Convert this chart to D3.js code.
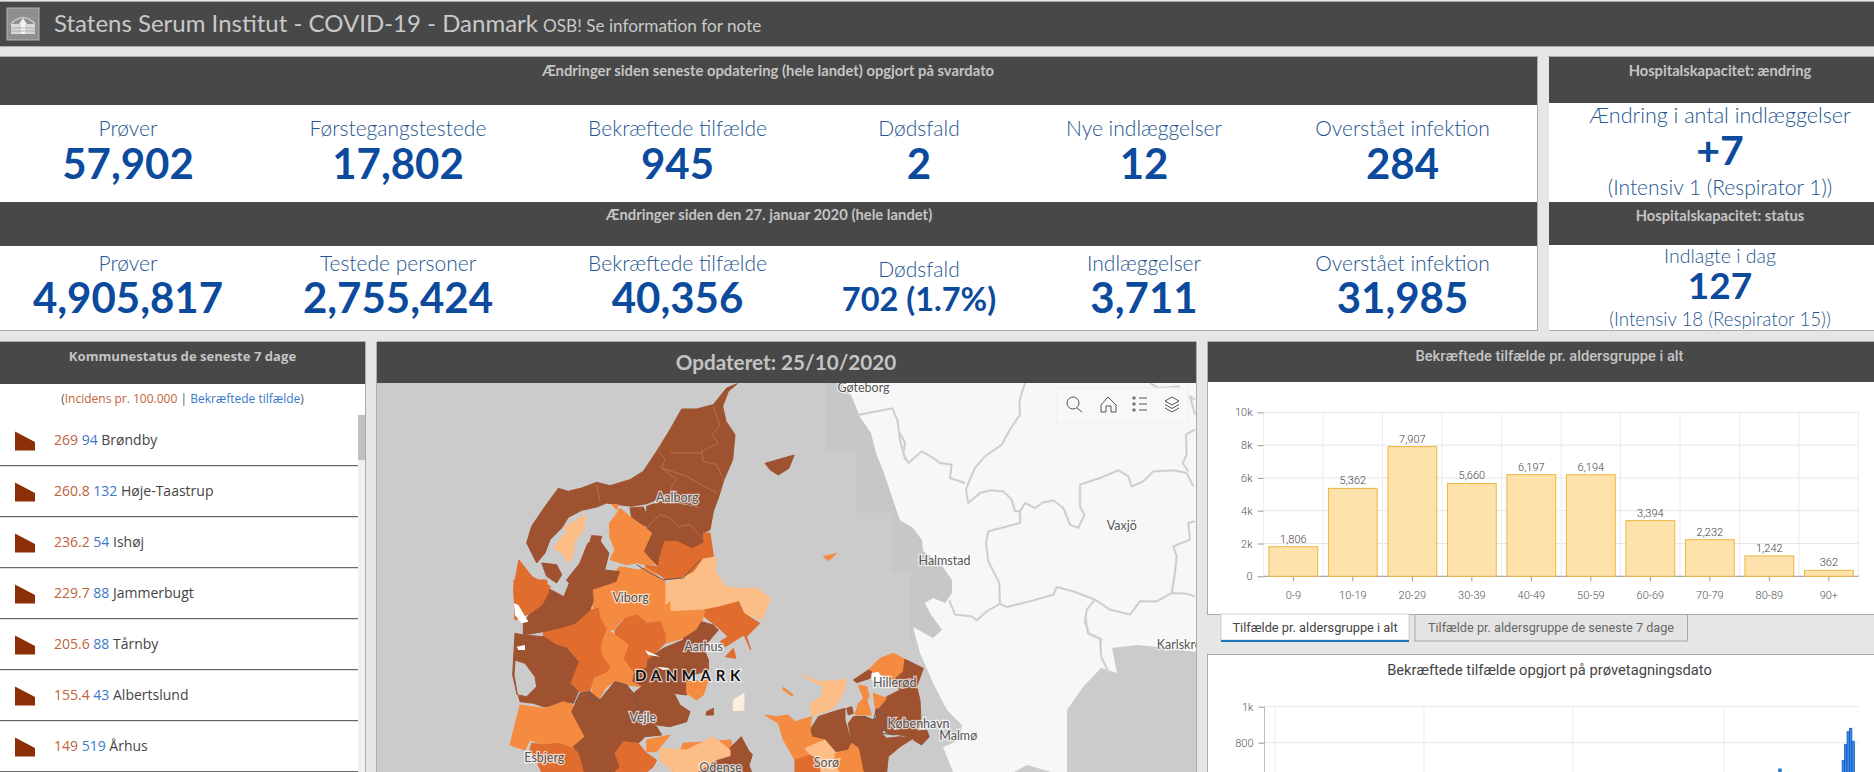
<!DOCTYPE html>
<html lang="da">
<head>
  <meta charset="UTF-8">
  <script src="https://d3js.org/d3.v7.min.js"></script>
  <title>Statens Serum Institut - COVID-19 - Danmark</title>
  <style>
    html, body { margin: 0; padding: 0; background: #e6e6e6; overflow: hidden; }
    svg { display: block; }
    text { font-family: Lato, "Open Sans", sans-serif; }
    .kpi-label { fill: #24558f; font-weight: 300; text-anchor: middle; }
    .kpi-value { fill: #0b4a9c; font-weight: 700; text-anchor: middle; }
    .panel-title { fill: #c4c4c4; font-weight: 700; text-anchor: middle; }
    .row-text { font-family: "Open Sans", sans-serif; font-size: 14px; }
    .axis text { font-family: Roboto, sans-serif; font-weight: 300; font-size: 11px; fill: #555; }
    .axis .domain { display: none; }
    .axis line { stroke: #999; }
    .map-label { font-family: Lato, sans-serif; font-size: 12.5px; fill: #555; text-anchor: middle;
      paint-order: stroke; stroke: rgba(255,255,255,.7); stroke-width: 2.5px; }
  </style>
</head>
<body>
<div id="chart"></div>
<script>
// top KPI rows
const changeLabels = ["Prøver", "Førstegangstestede", "Bekræftede tilfælde", "Dødsfald", "Nye indlæggelser", "Overstået infektion"];
const changeValues = ["57,902", "17,802", "945", "2", "12", "284"];
const totalLabels = ["Prøver", "Testede personer", "Bekræftede tilfælde", "Dødsfald", "Indlæggelser", "Overstået infektion"];
const totalValues = ["4,905,817", "2,755,424", "40,356", "702 (1.7%)", "3,711", "31,985"];

// kommune list
const kommuneNames = ["Brøndby", "Høje-Taastrup", "Ishøj", "Jammerbugt", "Tårnby", "Albertslund", "Århus"];
const kommuneIncidence = ["269", "260.8", "236.2", "229.7", "205.6", "155.4", "149"];
const kommuneCases = [94, 132, 54, 88, 88, 43, 519];

// age chart
const ageGroups = ["0-9", "10-19", "20-29", "30-39", "40-49", "50-59", "60-69", "70-79", "80-89", "90+"];
const ageCases = [1806, 5362, 7907, 5660, 6197, 6194, 3394, 2232, 1242, 362];
const ageTicks = [0, 2000, 4000, 6000, 8000, 10000];

// sampling date chart, only the days that reach into the visible part
const sampleDates = ["2020-09-24", "2020-10-20", "2020-10-21", "2020-10-22", "2020-10-23", "2020-10-24"];
const sampleCases = [654, 702, 791, 861, 880, 808];
const sampleTicks = [800, 1000];

// map geometry. each entry: [incidence class, points]
const northRegions = [
  [0, [[712,2],[685,25],[668,70],[678,115],[705,155],[698,230],[672,290],[655,345],[640,385],[615,378],[590,368],[545,360],[500,345],[470,350],[440,362],[395,370],[355,365],[320,360],[290,372],[245,382],[205,403],[185,435],[150,470],[135,510],[110,540],[90,500],[80,480],[95,430],[125,385],[150,350],[175,316],[205,325],[245,315],[290,298],[330,308],[390,290],[430,265],[470,205],[510,140],[545,78],[590,78],[640,65],[680,15]]],
  [0, [[440,370],[470,360],[500,350],[545,365],[590,372],[640,385],[630,440],[610,450],[612,480],[575,497],[530,475],[495,475],[480,520],[475,550],[430,505],[455,450],[440,435],[430,405],[440,390]]],
  [0, [[390,375],[430,372],[440,395],[435,430],[395,405]]],
  [2, [[360,375],[395,405],[430,430],[455,450],[430,505],[465,545],[435,545],[410,540],[380,545],[330,530],[345,500],[330,465],[328,420],[345,400]]],
  [2, [[335,365],[355,365],[350,380]]],
  [1, [[495,475],[530,475],[575,497],[612,480],[610,450],[630,450],[640,520],[610,525],[605,530],[580,565],[540,585],[500,590],[470,570],[435,548],[475,550],[480,520]]],
  [3, [[160,495],[200,445],[195,430],[240,405],[258,395],[250,440],[225,475],[220,515],[205,540],[185,510]]],
  [0, [[275,458],[305,460],[300,480],[270,475]]],
  [0, [[125,540],[170,545],[185,575],[170,600],[140,580]]]
];

const wideRegions = [
  [3, [[545,735],[545,800],[555,815],[620,810],[660,795],[690,785],[695,820],[730,840],[745,775],[720,745],[690,745],[660,740],[640,690],[645,655],[625,650],[610,670],[570,710]]],
  [1, [[620,810],[650,800],[685,785],[695,820],[725,850],[700,890],[708,930],[695,885],[660,920],[650,905],[665,890],[645,860],[620,830]]],
  [1, [[660,950],[675,925],[680,955]]],
  [2, [[410,770],[430,735],[460,680],[495,690],[515,680],[545,730],[545,790],[555,815],[530,810],[520,850],[470,835],[445,850],[430,870],[410,800]]],
  [0, [[360,720],[385,670],[400,610],[420,595],[440,640],[432,690],[460,695],[450,740],[410,765],[410,790],[385,840],[360,845],[310,860],[300,880],[285,850],[305,800],[325,745],[355,770],[365,730]]],
  [1, [[260,745],[270,660],[285,690],[295,710],[330,740],[310,790],[270,820],[262,790]]],
  [4, [[675,1080],[695,1060],[695,1110],[675,1112]]],
  [0, [[735,370],[790,345],[780,385],[760,405],[745,390]]],
  [2, [[845,650],[870,640],[855,662]]],
  [2, [[580,1210],[670,1200],[680,1260],[640,1296],[560,1296]]],
  [0, [[690,1190],[710,1250],[700,1296],[610,1296],[640,1270]]]
];

const midRegions = [
  [2, [[280,30],[370,0],[495,0],[495,65],[475,95],[480,125],[440,130],[410,105],[370,115],[340,150],[320,150],[300,115],[280,80]]],
  [2, [[510,65],[475,95],[480,125],[495,160],[495,190],[550,175],[590,150],[605,125],[615,90],[510,95]]],
  [0, [[605,125],[640,135],[655,150],[625,185],[610,205],[625,240],[620,270],[560,270],[550,175],[590,150]]],
  [0, [[460,225],[490,205],[550,180],[610,205],[625,240],[625,270],[565,290],[560,345],[520,340],[490,325],[425,320],[395,305],[400,280],[440,260],[440,240]]],
  [1, [[345,150],[375,115],[410,105],[440,130],[480,125],[495,160],[495,190],[460,225],[440,240],[440,260],[400,280],[370,235],[385,195],[345,165]]],
  [2, [[305,180],[325,150],[345,165],[385,195],[370,235],[400,280],[395,305],[425,320],[380,315],[345,305],[320,320],[295,360],[275,350],[280,300],[320,275],[330,260],[310,235],[300,210]]],
  [1, [[130,155],[195,140],[225,130],[270,90],[295,85],[300,115],[320,150],[305,180],[300,210],[310,235],[330,260],[320,275],[280,295],[270,335],[235,335],[210,310],[235,245],[200,205],[170,195],[130,170]]],
  [0, [[70,165],[130,155],[195,140],[225,130],[270,90],[280,60],[275,30],[245,30],[210,40],[200,65],[180,80],[160,35],[130,75],[90,100],[70,130]]],
  [1, [[42,35],[42,0],[140,0],[145,40],[125,75],[90,100],[45,120]]],
  [0, [[45,160],[70,165],[130,170],[170,195],[200,205],[235,245],[210,310],[235,335],[220,370],[190,365],[150,380],[130,380],[100,370],[60,365],[55,345],[80,350],[110,320],[105,290],[75,250],[45,240],[42,285],[52,345],[38,285]]],
  [2, [[60,375],[130,385],[150,380],[190,365],[220,375],[215,395],[255,470],[220,505],[175,490],[130,495],[90,480],[75,510],[30,495]]],
  [0, [[215,395],[240,340],[270,335],[300,360],[295,390],[325,410],[325,470],[290,475],[255,470]]],
  [0, [[300,360],[345,305],[380,315],[400,340],[420,395],[470,440],[485,465],[435,470],[415,490],[370,485],[325,470],[325,410],[295,390]]],
  [0, [[400,340],[425,320],[490,325],[525,345],[540,375],[570,395],[560,425],[510,440],[470,435],[420,395]]],
  [2, [[560,305],[625,300],[610,345],[590,360],[560,340]]],
  [0, [[255,470],[290,475],[325,470],[370,485],[345,520],[360,560],[345,576],[250,576],[235,520],[220,500]]],
  [1, [[370,485],[415,490],[440,520],[470,540],[460,560],[440,576],[345,576],[360,560],[345,520]]],
  [2, [[440,480],[510,465],[470,515],[440,515]]],
  [1, [[95,490],[130,495],[175,490],[220,505],[235,520],[250,576],[125,576],[110,545],[90,510]]],
  [3, [[480,505],[560,510],[640,470],[690,510],[690,540],[640,545],[590,576],[520,576],[480,540]]],
  [0, [[620,576],[640,545],[690,530],[720,525],[720,576]]],
  [0, [[620,395],[640,385],[640,405],[618,405]]]
];

const eastRegions = [
  [2, [[385,210],[420,175],[460,160],[495,178],[490,215],[455,240],[430,225],[395,215]]],
  [0, [[340,240],[385,210],[395,215],[390,235],[350,248]]],
  [0, [[455,245],[490,215],[495,178],[550,205],[530,260],[540,300],[543,370],[520,415],[480,405],[440,400],[420,375],[405,340],[410,320],[440,290],[480,270]]],
  [0, [[520,395],[560,390],[568,410],[545,435],[520,420]]],
  [0, [[325,370],[340,350],[375,350],[400,360],[410,350],[430,345],[445,365],[425,400],[440,415],[480,410],[520,415],[480,440],[445,470],[440,516],[370,516],[355,445],[335,430]]],
  [2, [[355,255],[380,260],[388,290],[380,300],[395,345],[345,345],[355,310],[370,295]]],
  [2, [[400,280],[440,295],[415,325],[405,320]]],
  [3, [[185,225],[240,245],[320,238],[310,280],[280,325],[215,350],[210,310],[245,290],[250,260],[200,235]]],
  [0, [[210,390],[235,350],[280,335],[315,325],[315,360],[325,395],[335,430],[325,450],[285,455],[255,420],[215,410]]],
  [0, [[320,325],[335,320],[340,340],[325,345]]],
  [2, [[75,345],[110,350],[145,345],[165,365],[215,350],[210,390],[215,410],[255,420],[195,445],[210,465],[165,480],[130,420],[115,370]]],
  [3, [[195,445],[255,420],[285,455],[300,475],[285,490],[300,516],[240,516],[230,480],[210,465]]],
  [2, [[285,460],[325,450],[335,430],[355,445],[370,516],[300,516],[285,490]]],
  [1, [[165,480],[210,465],[235,480],[240,516],[165,516]]],
  [2, [[130,262],[160,285],[155,288],[128,268]]],
  [0, [[0,415],[15,440],[38,465],[20,480],[35,516],[0,516]]]
];

// swedish coast and sea, in page pixels
const swedenCoast = [[842,383],[852,397],[860,417],[871,433],[876,453],[884,473],[892,497],[900,520],[913,528],[922,540],[923,551],[940,563],[952,580],[952,593],[945,603],[933,598],[925,603],[930,613],[942,630],[933,638],[913,627],[920,653],[935,687],[947,710],[962,725],[960,740],[943,747],[953,772],[1014,772],[1027,765],[1051,772],[1067,772],[1067,710],[1083,687],[1101,668],[1117,673],[1112,648],[1138,645],[1165,648],[1196,652],[1196,383]];
const shallowSea = [[850,128],[850,340],[908,340],[908,518],[975,518],[975,695],[1010,695],[1010,900],[1200,900],[1200,128]];

const neBorders = [
  [[375,0],[365,30],[358,60],[360,95],[330,140],[305,185],[255,220],[225,255],[205,300],[198,320],[205,360],[240,330],[270,322],[310,325],[335,350],[345,385],[360,385],[375,360],[405,375],[430,358],[460,352],[490,375],[510,425],[535,435],[553,395],[540,370],[540,305],[600,285],[655,262],[685,280],[695,310],[730,295],[760,265],[820,262],[860,270],[880,310]],
  [[0,150],[15,180],[10,210],[25,240],[65,205],[100,225],[120,240],[155,245],[150,285],[195,300]],
  [[360,385],[360,420],[265,445],[258,480],[265,535],[298,600],[300,660]],
  [[148,652],[165,695],[215,700],[230,712],[260,685],[300,662],[320,672],[400,652],[460,635],[470,612],[520,625],[585,650],[630,680],[690,695],[720,655],[770,655],[815,630],[860,632],[885,640]],
  [[585,650],[560,680],[555,720],[570,755],[605,770],[600,780]],
  [[815,630],[825,570],[830,520],[820,490],[870,470],[865,420],[885,415]],
  [[885,50],[870,40],[885,95]],
  [[885,140],[858,155],[860,215],[848,240],[865,265]],
  [[750,0],[775,15],[840,10]]
];
const wideBorders = [
  [[910,225],[975,205],[985,240],[990,300],[1000,360]],
  [[1340,830],[1345,880],[1368,895],[1370,950],[1385,1000]]
];

// kommune lines inside the dark areas
const northLines = [
  [[640,70],[660,130],[635,155],[655,180],[605,205],[610,235],[650,245],[670,290]],
  [[475,200],[495,230],[485,255],[530,290],[510,320]],
  [[485,255],[515,265],[560,280],[650,330]],
  [[510,210],[605,210]],
  [[290,305],[300,355]],
  [[440,435],[480,395],[510,405],[535,430],[570,425],[610,470]]
];
const midSeams = [[[225,370],[240,340],[270,335],[275,360],[300,360],[345,305],[380,315],[400,340],[420,395],[445,395]]];
const northSeams = [[[410,545],[450,570],[490,590],[550,585],[600,530]]];
const eastSeams = [[[350,350],[375,350],[400,360],[410,330],[445,350],[425,400],[465,405]]];
const midHoles = [
  [[42,70],[55,75],[85,125],[65,130],[45,105]],
  [[50,200],[75,195],[75,210],[55,210]],
  [[435,210],[480,230],[445,225]],
  [[470,260],[510,265],[490,270]]
];
const eastHoles = [[[395,220],[415,215],[430,240],[405,245],[395,240]]];

const mapLabelNames = ["Gøteborg", "Aalborg", "Viborg", "Aarhus", "Hillerød", "Vejle", "København", "Malmø", "Esbjerg", "Sorø", "Odense", "Halmstad", "Vaxjö", "Karlskrona"];
const mapLabelSpots = [[921,155],[569,486],[481,785],[619,932],[980,1040],[504,1146],[1025,1164],[1100,1201],[318,1267],[851,1281],[651,1295],[1074,674],[1409,571],[1530,926]];

const width = 1874, height = 772;
const svg = d3.select("#chart").append("svg").attr("width", width).attr("height", height);

const dark = "#484848", edge = "#ababab";

function box(x0, y0, x1, y1, fill) {
  return svg.append("rect").attr("x", x0).attr("y", y0).attr("width", x1 - x0).attr("height", y1 - y0).attr("fill", fill);
}
function label(x, y, txt, cls, size, sel) {
  return (sel || svg).append("text").attr("x", x).attr("y", y).attr("class", cls).attr("font-size", size).text(txt);
}

// header bar
box(0, 2, width, 46, dark);
box(0, 46, width, 47, edge);
box(0, 1, width, 2, edge);
box(7, 8, 39, 40, "#8f8f8f").attr("stroke", "#b5b5b5");
svg.append("path").attr("d", "M11 24 Q23 11 35 24").attr("fill", "none").attr("stroke", "#c5c5c5").attr("stroke-width", 1.5);
box(11, 24, 35, 34, "#d8d8d8");
svg.append("path").attr("d", "M19 24 L23 18 L27 24 Z").attr("fill", "#efefef");
box(21, 24, 25, 34, "#f6f6f6");
svg.append("path").attr("d", "M11 28 H35 M11 31 H35").attr("stroke", "#9a9a9a").attr("stroke-width", 0.7);
label(54, 32, "Statens Serum Institut - COVID-19 - Danmark", "", 24).attr("fill", "#c9c9c9").attr("font-weight", 400);
label(543, 32, "OSB! Se information for note", "", 17.2).attr("fill", "#c9c9c9");

// kpi panels
box(0, 56, 1538, 57, edge);
box(1548, 56, width, 57, edge);
box(0, 57, 1537, 105, dark);
box(0, 105, 1537, 202, "#fff");
box(0, 202, 1537, 246, dark);
box(0, 246, 1537, 330, "#fff");
box(1537, 57, 1538, 331, edge);
box(0, 330, 1538, 331, edge);
box(1549, 57, width, 103, dark);
box(1549, 103, width, 202, "#fff");
box(1549, 202, width, 245, dark);
box(1549, 245, width, 330, "#fff");
box(1549, 330, width, 331, edge);

label(768, 76, "Ændringer siden seneste opdatering (hele landet) opgjort på svardato", "panel-title", 14.8);
label(769, 220, "Ændringer siden den 27. januar 2020 (hele landet)", "panel-title", 14.8);
label(1720, 76, "Hospitalskapacitet: ændring", "panel-title", 14.7);
label(1720, 221, "Hospitalskapacitet: status", "panel-title", 14.7);

const kpiX = [128, 398, 677.5, 919, 1144, 1402.5];
changeLabels.forEach((d, i) => {
  label(kpiX[i], 136, d, "kpi-label", 21);
  label(kpiX[i], 179, changeValues[i], "kpi-value", 42);
});
totalLabels.forEach((d, i) => {
  const small = i === 3;
  label(kpiX[i], small ? 277 : 271, d, "kpi-label", 21);
  label(kpiX[i], small ? 311 : 313, totalValues[i], "kpi-value", small ? 32.5 : 42);
});
label(1720, 123, "Ændring i antal indlæggelser", "kpi-label", 21.5);
label(1720, 165, "+7", "kpi-value", 41);
label(1720, 195, "(Intensiv 1 (Respirator 1))", "kpi-label", 21);
label(1720, 263, "Indlagte i dag", "kpi-label", 19.5);
label(1720, 299, "127", "kpi-value", 37);
label(1720, 326, "(Intensiv 18 (Respirator 15))", "kpi-label", 18.7);

// kommune list
box(0, 341, 366, 342, edge);
box(0, 342, 365, 384, dark);
box(0, 384, 365, 772, "#fff");
box(365, 342, 366, 772, edge);
label(182.5, 361, "Kommunestatus de seneste 7 dage", "panel-title", 13.1).attr("style", "font-family:'Open Sans',sans-serif");
const legend = svg.append("text").attr("x", 182.5).attr("y", 403).attr("text-anchor", "middle")
  .attr("font-size", 12).attr("style", "font-family:'Open Sans',sans-serif");
legend.append("tspan").attr("fill", "#555").text("(");
legend.append("tspan").attr("fill", "#c0623a").text("Incidens pr. 100.000");
legend.append("tspan").attr("fill", "#555").text(" | ");
legend.append("tspan").attr("fill", "#3a78c9").text("Bekræftede tilfælde");
legend.append("tspan").attr("fill", "#555").text(")");
box(358, 415, 365, 772, "#f1f1f1");
box(358, 415, 365, 460, "#c1c1c1");

const rowY = d3.scaleLinear().domain([0, 1]).range([440, 491]);
const rows = svg.selectAll(".row").data(kommuneNames).enter().append("g")
  .attr("class", "row").attr("transform", (d, i) => `translate(0,${rowY(i)})`);
rows.append("path").attr("d", "M15 -8.5 L35 2 L35 10.5 L15 10.5 Z").attr("fill", "#8b2f06");
rows.append("line").attr("x1", 0).attr("x2", 358).attr("y1", 25.7).attr("y2", 25.7).attr("stroke", "#444");
const rowText = rows.append("text").attr("class", "row-text").attr("x", 54).attr("y", 5);
rowText.append("tspan").attr("fill", "#c0623a").text((d, i) => kommuneIncidence[i] + " ");
rowText.append("tspan").attr("fill", "#3a78c9").text((d, i) => kommuneCases[i] + " ");
rowText.append("tspan").attr("fill", "#444").text(d => d);

// map panel
box(377, 341, 1196, 342, edge);
box(377, 342, 1196, 383, dark);
box(1196, 342, 1197, 772, edge);
box(376, 342, 377, 772, edge);
label(786, 370, "Opdateret: 25/10/2020", "panel-title", 20.7);

svg.append("clipPath").attr("id", "map-clip").append("rect").attr("x", 377).attr("y", 383).attr("width", 819).attr("height", 389);
const map = svg.append("g").attr("clip-path", "url(#map-clip)");
box(377, 383, 1196, 772, "#cbcbcb").each(function() { map.node().appendChild(this); });

const views = {
  north: [d3.scaleLinear().domain([0, 720]).range([500, 740]), d3.scaleLinear().domain([0, 600]).range([383, 583])],
  mid: [d3.scaleLinear().domain([0, 720]).range([500, 740]), d3.scaleLinear().domain([0, 576]).range([580, 772])],
  east: [d3.scaleLinear().domain([0, 720]).range([740, 980]), d3.scaleLinear().domain([0, 516]).range([600, 772])],
  wide: [d3.scaleLinear().domain([0, 1568]).range([376, 1206]), d3.scaleLinear().domain([0, 1296]).range([340, 772])],
  ne: [d3.scaleLinear().domain([0, 900]).range([900, 1200]), d3.scaleLinear().domain([0, 780]).range([383, 643])],
  page: [d3.scaleIdentity(), d3.scaleIdentity()]
};
const pathIn = v => d3.line().x(d => views[v][0](d[0])).y(d => views[v][1](d[1]));
const incidenceColor = d3.scaleOrdinal().domain([0, 1, 2, 3, 4]).range(["#9e5230", "#e06c2e", "#f58b40", "#fdbd87", "#fdeedd"]);

map.append("path").attr("d", pathIn("wide")(shallowSea) + "Z").attr("fill", "#c7c7c7");
map.append("path").attr("d", pathIn("page")(swedenCoast) + "Z").attr("fill", "#f7f7f7");

function drawLines(v, lines, stroke, w) {
  map.append("g").selectAll("path").data(lines).enter().append("path")
    .attr("d", pathIn(v)).attr("fill", "none").attr("stroke", stroke).attr("stroke-width", w).attr("stroke-linejoin", "round");
}
[["ne", neBorders], ["wide", wideBorders]].forEach(([v, l]) => {
  drawLines(v, l, "#dcdcdc", 2.4);
  drawLines(v, l, "#bdbdbd", 0.7);
});

[["wide", wideRegions], ["north", northRegions], ["mid", midRegions], ["east", eastRegions]].forEach(([v, regions]) => {
  map.append("g").selectAll("path").data(regions).enter().append("path")
    .attr("d", d => pathIn(v)(d[1]) + "Z")
    .attr("fill", d => incidenceColor(d[0]))
    .attr("stroke", d => incidenceColor(d[0]))
    .attr("stroke-width", 1);
});
drawLines("north", northLines, "#bd7f60", 0.7);
drawLines("north", northSeams, "#6f5a50", 1);
drawLines("mid", midSeams, "#6f5a50", 1);
drawLines("east", eastSeams, "#6f5a50", 1);
map.append("g").selectAll("path").data(midHoles).enter().append("path").attr("d", d => pathIn("mid")(d) + "Z").attr("fill", "#fff");
map.append("g").selectAll("path").data(eastHoles).enter().append("path").attr("d", d => pathIn("east")(d) + "Z").attr("fill", "#fff");

map.append("g").selectAll("text").data(mapLabelNames).enter().append("text")
  .attr("class", "map-label")
  .attr("x", (d, i) => views.wide[0](mapLabelSpots[i][0]))
  .attr("y", (d, i) => views.wide[1](mapLabelSpots[i][1]))
  .text(d => d);
map.append("text").attr("class", "map-label").attr("x", views.wide[0](593)).attr("y", views.wide[1](1024))
  .attr("letter-spacing", "4.6px")
  .attr("style", "font-size:15px;fill:#111;font-weight:700").text("DANMARK");

// map tool icons
box(1057, 388, 1188, 422, "#f8f8f8").attr("stroke", "#eee");
const tools = svg.append("g").attr("fill", "none").attr("stroke", "#555").attr("stroke-width", 1);
tools.append("circle").attr("cx", 1073).attr("cy", 403).attr("r", 6);
tools.append("path").attr("d", "M1077 408 L1082 412");
tools.append("path").attr("d", "M1101 412 V405 L1108 397 L1116 405 V412 H1111 V406 H1106 V412 Z");
tools.append("path").attr("d", "M1139 398 H1147 M1139 404 H1147 M1139 410 H1147 M1133 397 h2 v2 h-2 z M1133 403 h2 v2 h-2 z M1133 409 h2 v2 h-2 z");
tools.append("path").attr("d", "M1165 401 L1172 397 L1179 401 L1172 405 Z M1165 404.5 L1172 408.5 L1179 404.5 M1165 408 L1172 412 L1179 408");

// age chart panel
box(1207, 341, width, 342, edge);
box(1207, 342, 1208, 614, edge);
box(1208, 342, width, 382, dark);
box(1208, 382, width, 614, "#fff");
box(1207, 614, width, 615, edge);
label(1549.5, 361, "Bekræftede tilfælde pr. aldersgruppe i alt", "panel-title", 14.7).attr("style", "font-family:Roboto,sans-serif;font-weight:500");

const x = d3.scaleBand().domain(ageGroups).range([1263.6, 1858.6]).paddingInner(0.18).paddingOuter(0.09);
const y = d3.scaleLinear().domain([0, 10000]).range([576.3, 412.3]);

const grid = svg.append("g");
grid.selectAll(".h").data(ageTicks).enter().append("line")
  .attr("x1", 1263.6).attr("x2", 1858.6).attr("y1", d => y(d)).attr("y2", d => y(d)).attr("stroke", "#e6e6e6");
grid.selectAll(".v").data(d3.range(ageGroups.length + 1)).enter().append("line")
  .attr("x1", i => 1263.6 + i * x.step()).attr("x2", i => 1263.6 + i * x.step())
  .attr("y1", y(10000)).attr("y2", y(0)).attr("stroke", "#ececec");

svg.append("g").attr("class", "axis").attr("transform", "translate(1263.6,0)")
  .call(d3.axisLeft(y).tickValues(ageTicks).tickFormat(d3.format("~s")).tickSize(6).tickPadding(5));
svg.append("g").attr("class", "axis").attr("transform", "translate(0,576.3)")
  .call(d3.axisBottom(x).tickSize(5).tickPadding(10));
svg.append("line").attr("x1", 1263.6).attr("x2", 1858.6).attr("y1", 576.3).attr("y2", 576.3).attr("stroke", "#999");

svg.selectAll(".bar").data(ageCases).enter().append("rect")
  .attr("class", "bar")
  .attr("x", (d, i) => x(ageGroups[i]))
  .attr("y", d => y(d))
  .attr("width", x.bandwidth())
  .attr("height", d => y(0) - y(d))
  .attr("fill", "#fde2ac")
  .attr("stroke", "#eeb53f");
svg.selectAll(".bar-label").data(ageCases).enter().append("text")
  .attr("class", "bar-label")
  .attr("x", (d, i) => x(ageGroups[i]) + x.bandwidth() / 2)
  .attr("y", d => y(d) - 4)
  .attr("text-anchor", "middle")
  .attr("style", "font-family:Roboto,sans-serif;font-weight:300;font-size:11px;fill:#444")
  .text(d3.format(","));

// tabs
box(1221, 614, 1409, 640, "#fff").attr("stroke", edge).attr("stroke-width", 0.5);
box(1221, 640, 1409, 642, "#1a76b8");
box(1415, 614.5, 1687.5, 641, "#e4e4e4").attr("stroke", "#a8a8a8");
label(1315, 632, "Tilfælde pr. aldersgruppe i alt", "", 12.8).attr("text-anchor", "middle").attr("fill", "#444").attr("style", "font-family:Roboto,sans-serif");
label(1551, 632, "Tilfælde pr. aldersgruppe de seneste 7 dage", "", 12.7).attr("text-anchor", "middle").attr("fill", "#666").attr("style", "font-family:Roboto,sans-serif");

// sampling date panel
box(1207, 654, width, 655, edge);
box(1207, 654, 1208, 772, edge);
box(1208, 655, width, 772, "#fff");
label(1549.5, 675, "Bekræftede tilfælde opgjort på prøvetagningsdato", "", 14.7).attr("text-anchor", "middle").attr("fill", "#444").attr("style", "font-family:Roboto,sans-serif");

const parseDay = d3.timeParse("%Y-%m-%d");
const t = d3.scaleTime().domain([parseDay("2020-02-25"), parseDay("2020-10-26")]).range([1263, 1858]);
const y2 = d3.scaleLinear().domain([0, 1000]).range([886.7, 706.7]);

svg.selectAll(".grid-h").data(sampleTicks).enter().append("line")
  .attr("x1", 1264.5).attr("x2", 1858).attr("y1", d => y2(d)).attr("y2", d => y2(d)).attr("stroke", "#e6e6e6");
svg.selectAll(".grid-v").data(t.ticks(d3.timeMonth.every(2))).enter().append("line")
  .attr("x1", d => t(d)).attr("x2", d => t(d)).attr("y1", 706.7).attr("y2", 772).attr("stroke", "#ececec");
svg.append("g").attr("class", "axis").attr("transform", "translate(1264.5,0)")
  .call(d3.axisLeft(y2).tickValues(sampleTicks).tickFormat(d3.format("~s")).tickSize(6).tickPadding(5));
svg.append("line").attr("x1", 1264.5).attr("x2", 1264.5).attr("y1", 706.7).attr("y2", 772).attr("stroke", "#bbb");

svg.selectAll(".day").data(sampleCases).enter().append("rect")
  .attr("class", "day")
  .attr("x", (d, i) => t(parseDay(sampleDates[i])) - 1.2)
  .attr("y", d => y2(d))
  .attr("width", 2.4)
  .attr("height", d => y2(0) - y2(d))
  .attr("fill", "#3a8cf0")
  .attr("stroke", "#1257b5")
  .attr("stroke-width", 0.8);
</script>
</body>
</html>
